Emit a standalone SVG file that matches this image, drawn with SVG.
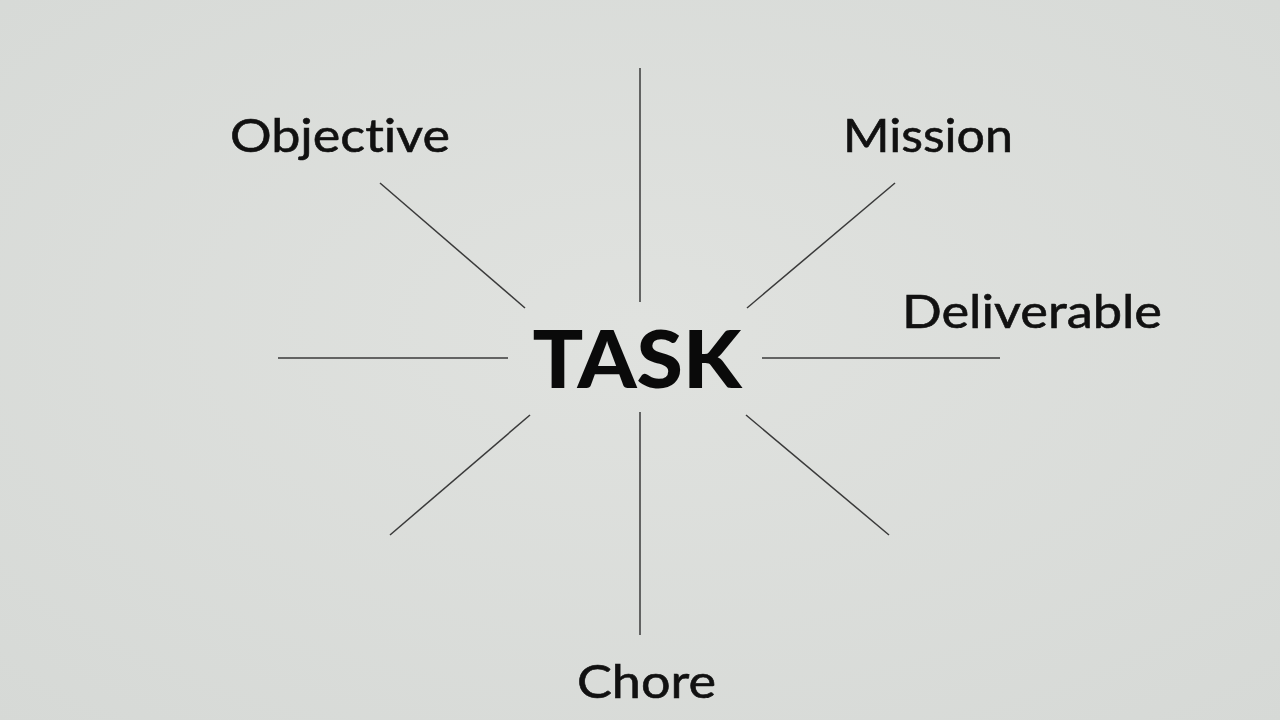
<svg xmlns="http://www.w3.org/2000/svg" width="1280" height="720" viewBox="0 0 1280 720">
<defs>
<radialGradient id="bg" cx="50%" cy="45%" r="75%">
<stop offset="0" stop-color="#e0e2df"/>
<stop offset="1" stop-color="#d6d9d6"/>
</radialGradient>
<style>
.lbl{font-family:Lato,"Noto Sans","Liberation Sans",sans-serif;font-size:46px;fill:#111;font-variant-ligatures:none;font-feature-settings:"liga" 0;stroke:#111;stroke-width:0.6;}
.center{font-family:Lato,"Noto Sans","Liberation Sans",sans-serif;font-size:80px;font-weight:900;fill:#0a0a0a;}
.ray{stroke:#3a3a3a;stroke-width:1.5;fill:none;}
</style>
</defs>
<rect width="1280" height="720" fill="url(#bg)"/>
<g id="connectors">
<line class="ray" x1="640" y1="68" x2="640" y2="302"/>
<line class="ray" x1="640" y1="412" x2="640" y2="635"/>
<line class="ray" x1="278" y1="358" x2="508" y2="358"/>
<line class="ray" x1="762" y1="358" x2="1000" y2="358"/>
<line class="ray" x1="380" y1="183" x2="525" y2="308"/>
<line class="ray" x1="895" y1="183" x2="747" y2="308"/>
<line class="ray" x1="530" y1="415" x2="390" y2="535"/>
<line class="ray" x1="746" y1="415" x2="889" y2="535"/>
</g>
<g id="task"><text class="center" x="637" y="388" text-anchor="middle" textLength="209" lengthAdjust="spacingAndGlyphs">TASK</text></g>
<g id="objective"><text class="lbl" x="230" y="152" textLength="220" lengthAdjust="spacingAndGlyphs">Objective</text></g>
<g id="mission"><text class="lbl" x="843" y="152" textLength="170" lengthAdjust="spacingAndGlyphs">Mission</text></g>
<g id="deliverable"><text class="lbl" x="902" y="328" textLength="260" lengthAdjust="spacingAndGlyphs">Deliverable</text></g>
<g id="chore"><text class="lbl" x="577" y="698" textLength="139" lengthAdjust="spacingAndGlyphs">Chore</text></g>
</svg>
